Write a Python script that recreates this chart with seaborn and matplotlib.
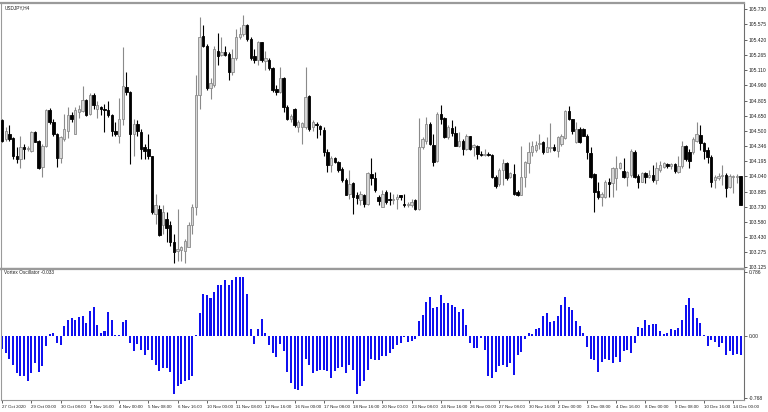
import numpy as np
import pandas as pd
import matplotlib
matplotlib.use("Agg")
import matplotlib.pyplot as plt
import seaborn as sns

# ---------------- data ----------------
opens = [
    104.61,104.42,104.47,104.43,104.25,104.22,104.34,104.32,104.30,104.49,
    104.40,104.13,104.35,104.71,104.59,104.47,104.23,104.42,104.50,104.66,
    104.47,104.69,104.70,104.81,104.67,104.86,104.72,104.74,104.72,104.71,
    104.66,104.50,104.45,104.62,104.94,104.89,104.47,104.57,104.49,104.34,
    104.32,104.25,103.66,103.71,103.55,103.61,103.55,103.38,103.29,103.30,
    103.29,103.33,103.55,103.73,104.86,105.46,105.36,104.93,104.96,105.31,
    105.27,105.30,105.28,105.09,105.23,105.45,105.48,105.57,105.43,105.25,
    105.21,105.40,105.20,105.21,105.13,104.92,104.89,105.03,104.74,104.62,
    104.72,104.54,104.54,104.54,104.85,104.54,104.57,104.55,104.51,104.29,
    104.15,104.23,104.18,104.11,104.00,103.86,103.97,103.85,103.80,103.85,
    103.76,104.06,104.02,103.83,103.73,103.88,103.81,103.80,103.81,103.85,
    103.76,103.75,103.75,103.80,103.71,104.34,104.40,104.57,104.36,104.20,
    104.67,104.63,104.44,104.53,104.48,104.35,104.40,104.32,104.45,104.34,
    104.35,104.27,104.26,104.27,104.26,104.03,103.96,104.10,104.17,104.03,
    104.06,103.88,103.85,104.03,104.17,104.29,104.31,104.37,104.39,104.29,
    104.33,104.34,104.30,104.37,104.43,104.70,104.62,104.39,104.52,104.52,
    104.45,104.28,104.06,103.89,103.83,103.83,103.98,103.97,104.02,104.12,
    104.09,104.03,104.05,104.29,104.04,103.98,104.07,104.03,104.05,104.00,
    104.10,104.13,104.16,104.14,104.16,104.08,104.14,104.35,104.29,104.29,
    104.40,104.46,104.38,104.31,104.24,104.00,104.02,104.04,104.05,103.93,
    104.03,104.03,104.04,
]
highs = [
    104.62,104.54,104.56,104.44,104.34,104.45,104.37,104.35,104.50,104.50,
    104.41,104.37,104.72,104.73,104.62,104.48,104.45,104.67,104.74,104.69,
    104.74,104.76,104.95,104.82,104.88,104.88,104.80,104.75,104.77,104.80,
    104.67,104.59,104.83,105.35,105.09,104.90,104.62,104.61,104.52,104.37,
    104.47,104.25,103.86,103.75,103.75,103.68,103.59,103.46,103.71,103.34,
    103.41,103.58,103.76,105.06,105.65,105.57,105.38,105.03,105.36,105.49,
    105.45,105.36,105.30,105.33,105.53,105.55,105.67,105.58,105.45,105.33,
    105.41,105.40,105.31,105.23,105.14,104.96,105.14,105.04,104.76,104.67,
    104.73,104.61,104.59,105.14,104.86,104.61,104.59,104.56,104.54,104.32,
    104.25,104.24,104.20,104.13,104.02,104.10,103.98,103.88,103.89,103.86,
    104.08,104.23,104.08,103.85,103.90,103.90,103.88,103.86,103.86,103.85,
    103.86,103.78,103.81,103.81,104.63,104.44,104.64,104.59,104.47,104.69,
    104.76,104.64,104.56,104.61,104.55,104.49,104.42,104.47,104.45,104.37,
    104.36,104.30,104.32,104.29,104.27,104.05,104.12,104.22,104.18,104.08,
    104.16,103.90,104.35,104.20,104.39,104.40,104.40,104.47,104.40,104.44,
    104.58,104.37,104.45,104.47,104.71,104.75,104.62,104.59,104.54,104.53,
    104.47,104.34,104.07,103.98,103.88,104.00,104.02,104.13,104.25,104.18,
    104.23,104.09,104.32,104.31,104.06,104.08,104.08,104.10,104.15,104.18,
    104.20,104.18,104.17,104.17,104.17,104.25,104.40,104.36,104.32,104.44,
    104.59,104.56,104.39,104.34,104.26,104.05,104.07,104.15,104.07,104.06,
    104.05,104.06,104.04,
]
lows = [
    104.39,104.40,104.40,104.22,104.17,104.12,104.22,104.30,104.29,104.39,
    104.11,104.03,104.34,104.57,104.45,104.13,104.17,104.40,104.43,104.59,
    104.47,104.63,104.69,104.65,104.66,104.72,104.63,104.66,104.49,104.64,
    104.45,104.45,104.38,104.56,104.86,104.16,104.25,104.45,104.22,104.22,
    104.22,103.66,103.56,103.44,103.46,103.38,103.34,103.17,103.19,103.19,
    103.17,103.33,103.46,103.65,104.72,105.35,104.91,104.82,104.94,105.16,
    105.25,105.25,105.01,105.06,105.21,105.43,105.46,105.41,105.21,105.18,
    105.16,105.19,105.11,105.11,104.89,104.86,104.88,104.69,104.61,104.59,
    104.54,104.49,104.37,104.52,104.50,104.50,104.43,104.46,104.25,104.08,
    104.08,104.17,104.08,103.98,103.85,103.81,103.66,103.76,103.75,103.73,
    103.75,103.95,103.88,103.75,103.73,103.76,103.75,103.76,103.71,103.80,
    103.73,103.73,103.73,103.70,103.70,104.32,104.37,104.36,104.14,104.19,
    104.57,104.43,104.42,104.45,104.35,104.34,104.26,104.31,104.31,104.25,
    104.22,104.25,104.25,104.25,104.02,103.92,103.94,103.95,104.00,104.02,
    103.85,103.84,103.85,103.93,104.07,104.25,104.29,104.32,104.27,104.29,
    104.29,104.30,104.24,104.35,104.42,104.61,104.47,104.38,104.38,104.45,
    104.22,104.02,103.68,103.81,103.74,103.82,103.83,103.83,103.90,104.11,
    104.02,103.94,104.03,104.02,103.92,103.98,103.97,104.02,103.98,103.96,
    104.08,104.12,104.12,104.11,104.07,104.07,104.12,104.20,104.12,104.27,
    104.39,104.31,104.22,104.17,103.93,103.92,104.00,103.95,103.83,103.92,
    103.87,103.97,103.75,
]
closes = [
    104.40,104.50,104.42,104.25,104.22,104.34,104.32,104.33,104.49,104.39,
    104.12,104.35,104.71,104.59,104.47,104.23,104.44,104.52,104.66,104.62,
    104.71,104.72,104.81,104.66,104.86,104.76,104.76,104.72,104.71,104.66,
    104.50,104.47,104.62,104.95,104.89,104.47,104.57,104.50,104.32,104.30,
    104.25,103.68,103.75,103.45,103.68,103.52,103.38,103.28,103.31,103.33,
    103.39,103.55,103.73,104.86,105.45,105.36,104.93,104.98,105.33,105.26,
    105.30,105.27,105.09,105.23,105.45,105.48,105.57,105.43,105.23,105.21,
    105.40,105.21,105.23,105.13,104.91,104.89,105.03,104.74,104.62,104.65,
    104.56,104.59,104.58,104.84,104.52,104.59,104.56,104.52,104.29,104.15,
    104.23,104.19,104.10,104.00,103.85,103.96,103.83,103.82,103.86,103.76,
    104.07,104.02,103.90,103.79,103.86,103.78,103.80,103.81,103.83,103.83,
    103.75,103.76,103.78,103.71,104.34,104.42,104.57,104.37,104.19,104.67,
    104.62,104.44,104.54,104.48,104.35,104.40,104.32,104.45,104.32,104.36,
    104.27,104.26,104.27,104.26,104.03,103.94,104.10,104.17,104.02,104.07,
    103.86,103.85,104.03,104.18,104.29,104.35,104.36,104.38,104.29,104.34,
    104.34,104.31,104.44,104.45,104.70,104.62,104.50,104.52,104.39,104.45,
    104.29,104.03,103.88,103.83,103.86,103.98,103.96,104.12,104.12,104.17,
    104.03,104.08,104.30,104.03,103.98,104.07,104.03,104.05,104.00,104.12,
    104.15,104.17,104.14,104.16,104.09,104.14,104.35,104.22,104.20,104.42,
    104.47,104.38,104.30,104.24,103.98,104.03,104.04,104.05,103.92,104.04,
    104.04,104.04,103.75,
]
vortex = [
    -0.16,-0.21,-0.28,-0.36,-0.46,-0.49,-0.50,-0.55,-0.46,-0.33,-0.44,-0.37,-0.13,
    0.02,0.03,-0.09,-0.11,
    0.12,0.20,0.22,0.20,0.23,0.25,0.16,0.30,0.35,0.13,0.04,0.06,0.29,0.19,0.01,0.01,0.17,0.19,
    -0.09,-0.19,-0.10,-0.17,-0.23,-0.17,-0.30,-0.36,-0.43,-0.39,-0.39,-0.44,-0.71,-0.62,-0.59,-0.56,-0.54,-0.50,
    0.01,0.28,0.51,0.50,0.46,0.54,0.63,0.63,0.69,0.63,0.69,0.73,0.73,0.72,0.52,0.08,
    -0.10,
    0.08,0.21,0.03,
    -0.11,-0.21,-0.26,-0.10,-0.19,-0.44,-0.58,-0.65,-0.67,-0.62,-0.28,-0.36,-0.46,-0.43,
    -0.42,-0.42,-0.43,-0.52,-0.43,-0.40,-0.38,-0.46,-0.36,-0.42,-0.71,-0.62,-0.55,-0.42,
    -0.28,-0.30,-0.30,-0.25,-0.25,-0.21,-0.16,-0.11,-0.09,-0.02,-0.07,-0.06,-0.04,
    0.18,0.26,0.42,0.48,0.34,0.36,0.50,0.41,0.40,0.38,0.36,0.29,0.33,0.13,
    -0.09,-0.15,-0.15,-0.03,-0.18,-0.50,-0.52,-0.44,-0.37,-0.36,-0.38,-0.33,-0.48,-0.24,-0.20,-0.04,
    0.04,0.02,0.09,0.10,0.24,0.28,0.17,0.18,0.24,0.38,0.48,0.35,0.32,0.18,0.12,0.04,
    -0.14,-0.28,-0.30,-0.44,-0.32,-0.28,-0.30,-0.33,-0.26,-0.32,-0.19,-0.17,-0.21,-0.09,
    0.11,0.10,0.19,0.13,0.14,0.15,0.06,0.02,0.04,0.09,0.07,0.10,0.20,0.38,0.46,0.34,0.22,0.16,0.01,
    -0.12,-0.05,-0.07,-0.14,-0.09,-0.23,-0.19,-0.24,-0.22,-0.24,
]
time_labels = [
    "27 Oct 2020", "29 Oct 00:00", "30 Oct 08:00", "2 Nov 16:00", "4 Nov 00:00",
    "5 Nov 08:00", "6 Nov 16:00", "10 Nov 00:00", "11 Nov 08:00", "12 Nov 16:00",
    "16 Nov 00:00", "17 Nov 08:00", "18 Nov 16:00", "20 Nov 00:00", "23 Nov 08:00",
    "24 Nov 16:00", "26 Nov 00:00", "27 Nov 08:00", "30 Nov 16:00", "2 Dec 00:00",
    "3 Dec 08:00", "4 Dec 16:00", "8 Dec 00:00", "9 Dec 08:00", "10 Dec 16:00",
    "14 Dec 00:00",
]
price_ticks = ["105.730", "105.575", "105.420", "105.265", "105.110", "104.960",
               "104.805", "104.650", "104.500", "104.346", "104.195", "104.040",
               "103.885", "103.730", "103.580", "103.430", "103.275", "103.125"]
osc_ticks = ["0.786", "0.00", "-0.768"]
symbol_title = "USDJPY,H4"
osc_title = "Vortex Oscillator -0.033"

n = len(closes)
print(len(opens), len(highs), len(lows), len(closes), len(vortex))

df = pd.DataFrame({"bar": np.arange(n), "open": opens, "high": highs,
                   "low": lows, "close": closes, "vortex": vortex})

# ---------------- style ----------------
sns.set_theme(style="white")
plt.rcParams["font.family"] = ["Liberation Sans", "DejaVu Sans"]

W, H = 768, 412
fig = plt.figure(figsize=(W / 100, H / 100), dpi=100)
fig.patch.set_facecolor("white")

def rect(x0, y0, x1, y1):
    return [x0 / W, 1 - y1 / H, (x1 - x0) / W, (y1 - y0) / H]

ax1 = fig.add_axes(rect(0.5, 3, 744, 268.5))
ax2 = fig.add_axes(rect(0.5, 268.5, 744, 400))

XMIN, XMAX = -0.45, n - 0.05

# ---------------- candles ----------------
up = df["close"] >= df["open"]
bull_face, bull_edge = "#d6d6d6", "#8a8a8a"
bear_face = "#000000"
body_lo = df[["open", "close"]].min(axis=1)
body_h = (df["close"] - df["open"]).abs().clip(lower=0.007)

for mask, wick_c, face, edge in [(up, bull_edge, bull_face, bull_edge),
                                 (~up, "#000000", bear_face, "#000000")]:
    d = df[mask]
    ax1.vlines(d["bar"], d["low"], d["high"], color=wick_c, linewidth=0.8, zorder=2)
    ax1.bar(d["bar"], body_h[mask], bottom=body_lo[mask], width=0.66,
            color=face, edgecolor=edge, linewidth=0.6, zorder=3)

ax1.set_xlim(XMIN, XMAX)
ax1.set_ylim(103.11, 105.79)
ax1.yaxis.tick_right()
ax1.set_yticks([float(t) for t in price_ticks])
ax1.set_yticklabels(price_ticks)
ax1.set_xticks([])
ax1.tick_params(axis="y", direction="out", length=2, width=0.5, pad=1.5,
                labelsize=3.6, colors="#222222", right=True, left=False)
ax1.set_xlabel(""); ax1.set_ylabel("")

# ---------------- vortex histogram ----------------
sns.barplot(data=df, x="bar", y="vortex", native_scale=True, width=0.55,
            color="#1010f0", saturation=1, linewidth=0, errorbar=None, ax=ax2)
ax2.set_xlim(XMIN, XMAX)
ax2.set_ylim(-0.79, 0.829)
ax2.yaxis.tick_right()
ax2.set_yticks([float(t) for t in osc_ticks])
ax2.set_yticklabels(osc_ticks)
ax2.tick_params(axis="y", direction="out", length=2, width=0.5, pad=1.5,
                labelsize=3.6, colors="#222222", right=True, left=False)
ax2.set_xticks(np.arange(0, 8 * len(time_labels), 8))
ax2.set_xticklabels(time_labels, ha="left")
ax2.tick_params(axis="x", direction="out", length=2, width=0.5, pad=1.5,
                labelsize=3.2, colors="#222222", bottom=True)
ax2.set_xlabel(""); ax2.set_ylabel("")

# ---------------- frames ----------------
for ax in (ax1, ax2):
    for s in ax.spines.values():
        s.set_visible(True)
        s.set_color("#9a9a9a")
        s.set_linewidth(0.8)
    ax.spines["right"].set_color("#6e6e6e")
    ax.set_facecolor("white")
ax1.spines["top"].set_linewidth(1.6)
ax1.spines["bottom"].set_linewidth(1.6)
ax2.spines["top"].set_linewidth(1.6)

ax1.text(0.005, 0.99, symbol_title, transform=ax1.transAxes, ha="left", va="top",
         fontsize=3.4, color="#222222")
ax2.text(0.005, 0.985, osc_title, transform=ax2.transAxes, ha="left", va="top",
         fontsize=3.4, color="#222222")

fig.savefig("out.png", dpi=100, facecolor="white")
